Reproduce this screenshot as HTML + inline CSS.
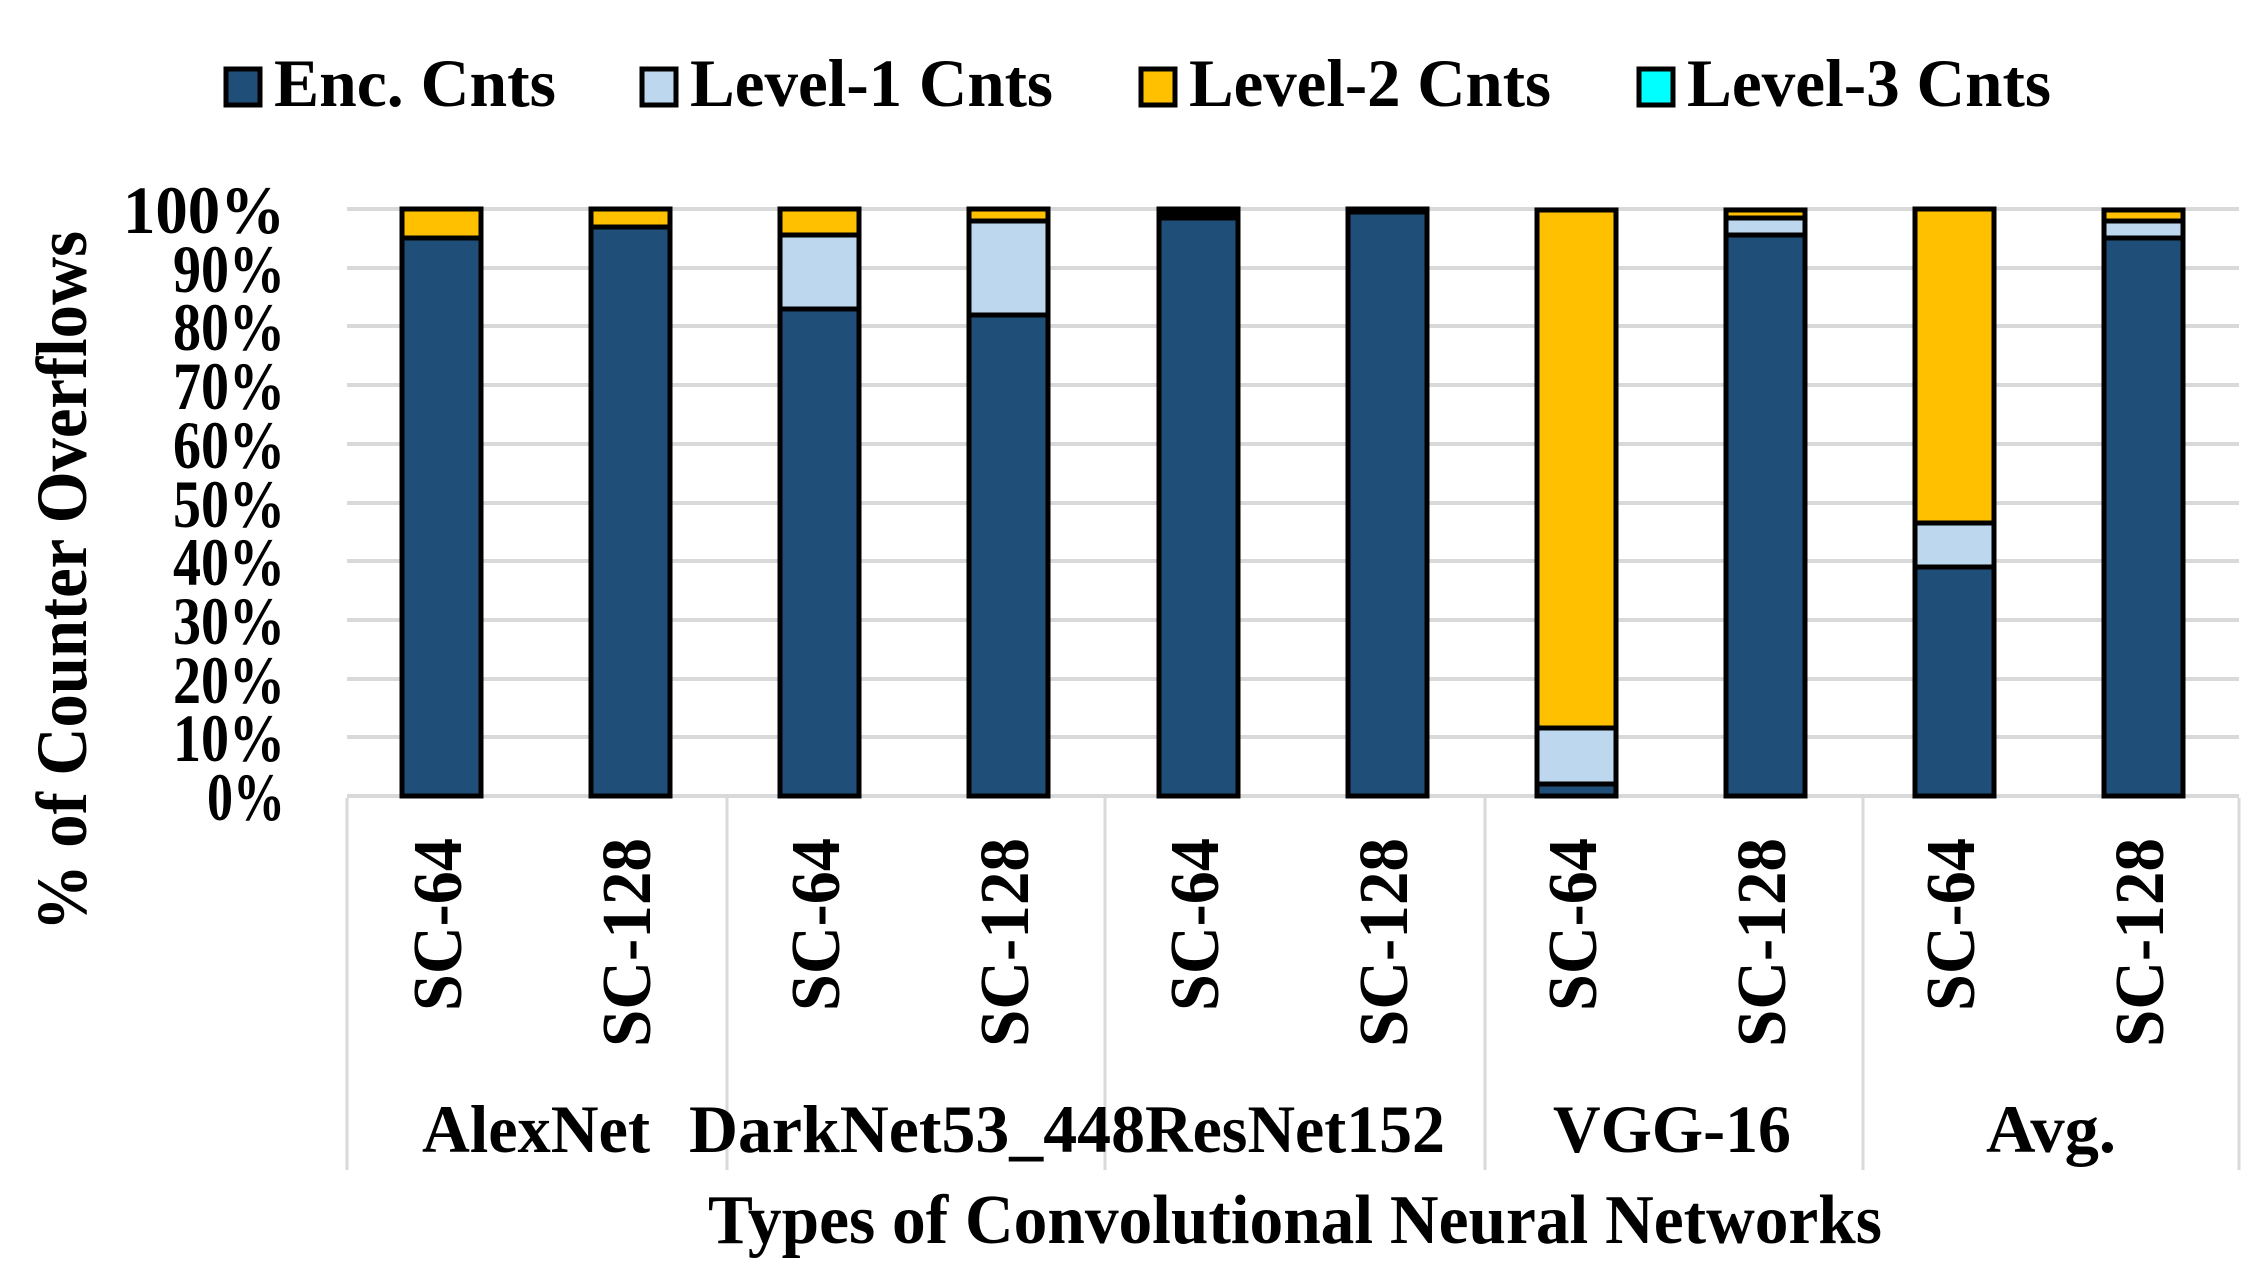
<!DOCTYPE html>
<html><head><meta charset="utf-8"><style>html,body{margin:0;padding:0;background:#fff}svg{display:block}</style></head>
<body>
<svg width="2265" height="1283" viewBox="0 0 2265 1283" xmlns="http://www.w3.org/2000/svg" font-family="Liberation Serif, serif" font-weight="bold">
<rect width="2265" height="1283" fill="#fff"/>
<g font-size="68">
<rect x="226" y="69" width="34" height="36" fill="#1F4E79" stroke="#000" stroke-width="5"/>
<text x="274" y="106" textLength="282" lengthAdjust="spacingAndGlyphs">Enc. Cnts</text>
<rect x="642" y="69" width="34" height="36" fill="#BDD7EE" stroke="#000" stroke-width="5"/>
<text x="690" y="106" textLength="363" lengthAdjust="spacingAndGlyphs">Level-1 Cnts</text>
<rect x="1141" y="69" width="34" height="36" fill="#FFC000" stroke="#000" stroke-width="5"/>
<text x="1189" y="106" textLength="362" lengthAdjust="spacingAndGlyphs">Level-2 Cnts</text>
<rect x="1639" y="69" width="34" height="36" fill="#00FFFF" stroke="#000" stroke-width="5"/>
<text x="1687" y="106" textLength="364" lengthAdjust="spacingAndGlyphs">Level-3 Cnts</text>
</g>
<g stroke="#d9d9d9" stroke-width="4">
<line x1="347" x2="2239" y1="209" y2="209"/><line x1="347" x2="2239" y1="268" y2="268"/>
<line x1="347" x2="2239" y1="326" y2="326"/><line x1="347" x2="2239" y1="385" y2="385"/>
<line x1="347" x2="2239" y1="444" y2="444"/><line x1="347" x2="2239" y1="503" y2="503"/>
<line x1="347" x2="2239" y1="561" y2="561"/><line x1="347" x2="2239" y1="620" y2="620"/>
<line x1="347" x2="2239" y1="679" y2="679"/><line x1="347" x2="2239" y1="737" y2="737"/>
<line x1="347" x2="2239" y1="796" y2="796"/>
</g>
<g stroke="#d9d9d9" stroke-width="3">
<line x1="347" y1="798" x2="347" y2="1170"/><line x1="727" y1="798" x2="727" y2="1170"/>
<line x1="1105" y1="798" x2="1105" y2="1170"/><line x1="1485" y1="798" x2="1485" y2="1170"/>
<line x1="1863" y1="798" x2="1863" y2="1170"/><line x1="2239" y1="798" x2="2239" y2="1170"/>
</g>
<g font-size="68" text-anchor="end">
<text x="285" y="233" textLength="162" lengthAdjust="spacingAndGlyphs">100%</text>
<text x="285" y="292" textLength="112" lengthAdjust="spacingAndGlyphs">90%</text>
<text x="285" y="350" textLength="112" lengthAdjust="spacingAndGlyphs">80%</text>
<text x="285" y="409" textLength="112" lengthAdjust="spacingAndGlyphs">70%</text>
<text x="285" y="468" textLength="112" lengthAdjust="spacingAndGlyphs">60%</text>
<text x="285" y="527" textLength="112" lengthAdjust="spacingAndGlyphs">50%</text>
<text x="285" y="585" textLength="112" lengthAdjust="spacingAndGlyphs">40%</text>
<text x="285" y="644" textLength="112" lengthAdjust="spacingAndGlyphs">30%</text>
<text x="285" y="703" textLength="112" lengthAdjust="spacingAndGlyphs">20%</text>
<text x="285" y="761" textLength="112" lengthAdjust="spacingAndGlyphs">10%</text>
<text x="285" y="820" textLength="78" lengthAdjust="spacingAndGlyphs">0%</text>
</g>
<text transform="translate(86,581) rotate(-90)" font-size="72" text-anchor="middle" textLength="700" lengthAdjust="spacingAndGlyphs">% of Counter Overflows</text>
<g stroke="#000" stroke-width="5">
<rect x="402" y="238" width="79" height="558" fill="#1F4E79"/>
<rect x="402" y="209" width="79" height="29" fill="#FFC000"/>
<rect x="591" y="227" width="79" height="569" fill="#1F4E79"/>
<rect x="591" y="209" width="79" height="18" fill="#FFC000"/>
<rect x="780" y="309" width="79" height="487" fill="#1F4E79"/>
<rect x="780" y="235" width="79" height="74" fill="#BDD7EE"/>
<rect x="780" y="209" width="79" height="26" fill="#FFC000"/>
<rect x="969" y="315" width="79" height="481" fill="#1F4E79"/>
<rect x="969" y="221" width="79" height="94" fill="#BDD7EE"/>
<rect x="969" y="209" width="79" height="12" fill="#FFC000"/>
<rect x="1159" y="218" width="79" height="578" fill="#1F4E79"/>
<rect x="1159" y="209" width="79" height="9" fill="#000"/>
<rect x="1348" y="212" width="79" height="584" fill="#1F4E79"/>
<rect x="1348" y="209" width="79" height="3" fill="#000"/>
<rect x="1537" y="784" width="79" height="12" fill="#1F4E79"/>
<rect x="1537" y="728" width="79" height="56" fill="#BDD7EE"/>
<rect x="1537" y="210" width="79" height="518" fill="#FFC000"/>
<rect x="1726" y="235" width="79" height="561" fill="#1F4E79"/>
<rect x="1726" y="218" width="79" height="17" fill="#BDD7EE"/>
<rect x="1726" y="210" width="79" height="8" fill="#FFC000"/>
<rect x="1915" y="567" width="79" height="229" fill="#1F4E79"/>
<rect x="1915" y="523" width="79" height="44" fill="#BDD7EE"/>
<rect x="1915" y="209" width="79" height="314" fill="#FFC000"/>
<rect x="2104" y="238" width="79" height="558" fill="#1F4E79"/>
<rect x="2104" y="221" width="79" height="17" fill="#BDD7EE"/>
<rect x="2104" y="210" width="79" height="11" fill="#FFC000"/>
</g>
<g font-size="70" text-anchor="end">
<text transform="translate(461,838) rotate(-90)" textLength="173" lengthAdjust="spacingAndGlyphs">SC-64</text>
<text transform="translate(650,838) rotate(-90)" textLength="209" lengthAdjust="spacingAndGlyphs">SC-128</text>
<text transform="translate(839,838) rotate(-90)" textLength="173" lengthAdjust="spacingAndGlyphs">SC-64</text>
<text transform="translate(1028,838) rotate(-90)" textLength="209" lengthAdjust="spacingAndGlyphs">SC-128</text>
<text transform="translate(1218,838) rotate(-90)" textLength="173" lengthAdjust="spacingAndGlyphs">SC-64</text>
<text transform="translate(1407,838) rotate(-90)" textLength="209" lengthAdjust="spacingAndGlyphs">SC-128</text>
<text transform="translate(1596,838) rotate(-90)" textLength="173" lengthAdjust="spacingAndGlyphs">SC-64</text>
<text transform="translate(1785,838) rotate(-90)" textLength="209" lengthAdjust="spacingAndGlyphs">SC-128</text>
<text transform="translate(1974,838) rotate(-90)" textLength="173" lengthAdjust="spacingAndGlyphs">SC-64</text>
<text transform="translate(2163,838) rotate(-90)" textLength="209" lengthAdjust="spacingAndGlyphs">SC-128</text>
</g>
<g font-size="68">
<text x="422" y="1152" textLength="228" lengthAdjust="spacingAndGlyphs">AlexNet</text>
<text x="689" y="1152" textLength="456" lengthAdjust="spacingAndGlyphs">DarkNet53_448</text>
<text x="1145" y="1152" textLength="300" lengthAdjust="spacingAndGlyphs">ResNet152</text>
<text x="1553" y="1152" textLength="238" lengthAdjust="spacingAndGlyphs">VGG-16</text>
<text x="1986" y="1152" textLength="130" lengthAdjust="spacingAndGlyphs">Avg.</text>
</g>
<text x="708" y="1243" font-size="70" textLength="1174" lengthAdjust="spacingAndGlyphs">Types of Convolutional Neural Networks</text>
</svg>
</body></html>
